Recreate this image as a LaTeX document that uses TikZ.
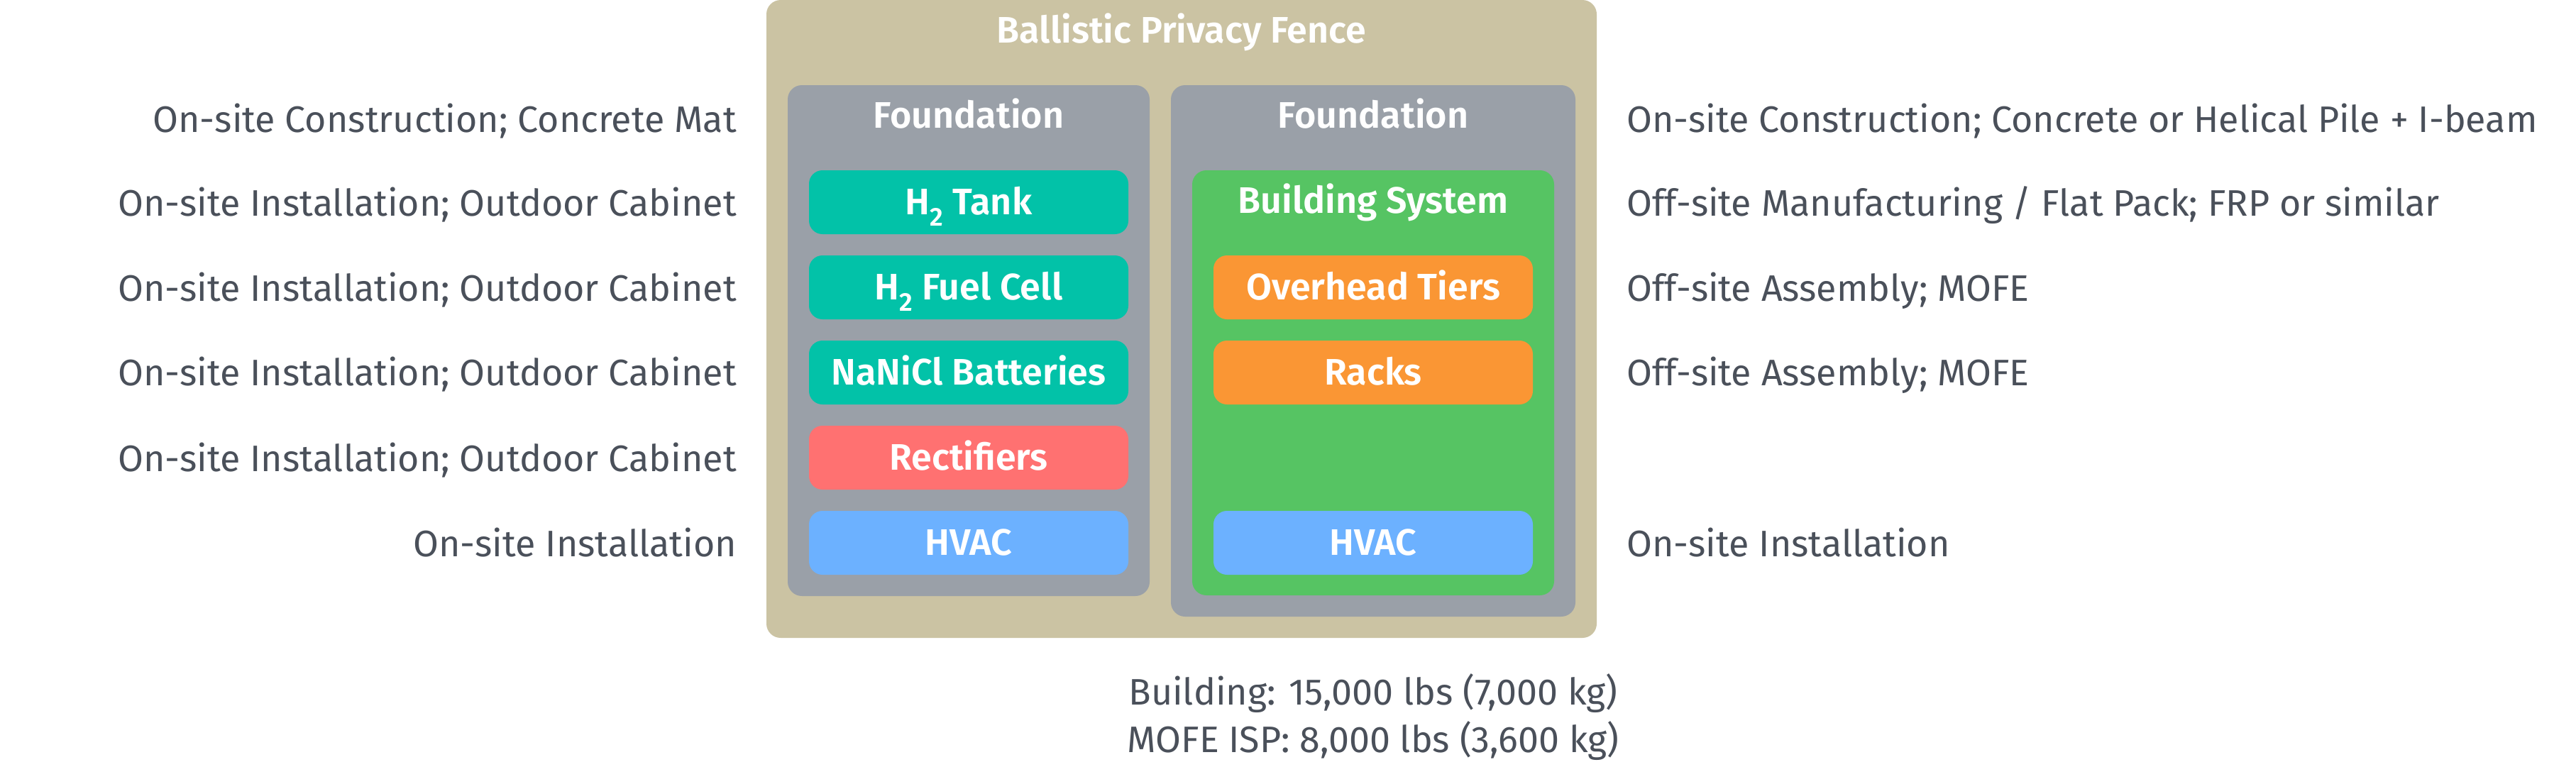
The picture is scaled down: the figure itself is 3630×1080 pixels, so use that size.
\documentclass[tikz,border=0pt]{standalone}
\usepackage{fontspec}
\setmainfont{Fira Sans}
\newfontfamily\semib{Fira Sans SemiBold}
\definecolor{fence}{RGB}{203,195,163}
\definecolor{found}{RGB}{154,160,168}
\definecolor{teal}{RGB}{2,194,168}
\definecolor{bgreen}{RGB}{86,196,99}
\definecolor{orng}{RGB}{250,150,52}
\definecolor{salmon}{RGB}{255,113,113}
\definecolor{skyb}{RGB}{108,177,255}
\definecolor{ink}{RGB}{74,80,90}
\newcommand\lblfnt{\fontsize{52}{67}\selectfont}
\newcommand\boldfnt{\fontsize{52}{60}\selectfont\semib}
\begin{document}
\begin{tikzpicture}[x=1pt,y=-1pt,
  panel/.style={rounded corners=20pt, inner sep=0pt, outer sep=0pt, anchor=north west},
  item/.style={rounded corners=19pt, inner sep=0pt, outer sep=0pt, text=white, font=\boldfnt,
    minimum width=450pt, minimum height=90pt, text height=35pt, text depth=0pt},
  ttl/.style={text=white, font=\boldfnt, anchor=base, inner sep=0pt},
  lbl/.style={text=ink, font=\lblfnt, inner sep=0pt}]
\useasboundingbox (0,0) rectangle (3630,1080);
% containers
\node[panel, fill=fence, minimum width=1170pt, minimum height=899pt] (fence) at (1080,0) {};
\node[panel, fill=found, minimum width=510pt, minimum height=720pt] (fl) at (1110,120) {};
\node[panel, fill=found, minimum width=570pt, minimum height=749pt] (fr) at (1650,120) {};
\node[panel, fill=bgreen, minimum width=510pt, minimum height=599pt] (bs) at (1680,240) {};
% titles
\node[ttl] (tfence) at (1665,60) {Ballistic Privacy Fence};
\node[ttl] (tfl) at (1365,180) {Foundation};
\node[ttl] (tfr) at (1935,180) {Foundation};
\node[ttl] (tbs) at (1935,300) {Building System};
% left items
\node[item, fill=teal] (tank) at (1365,285) {H\textsubscript{2} Tank};
\node[item, fill=teal] (cell) at (1365,405) {H\textsubscript{2} Fuel Cell};
\node[item, fill=teal] (batt) at (1365,525) {NaNiCl Batteries};
\node[item, fill=salmon] (rect) at (1365,645) {Rectifiers};
\node[item, fill=skyb] (hvacl) at (1365,765) {HVAC};
% right items
\node[item, fill=orng] (tiers) at (1935,405) {Overhead Tiers};
\node[item, fill=orng] (racks) at (1935,525) {Racks};
\node[item, fill=skyb] (hvacr) at (1935,765) {HVAC};
% left labels
\node[lbl, anchor=base east] (l1) at (1038,186) {On-site Construction; Concrete Mat};
\node[lbl, anchor=base east] (l2) at (1038,304) {On-site Installation; Outdoor Cabinet};
\node[lbl, anchor=base east] (l3) at (1038,424) {On-site Installation; Outdoor Cabinet};
\node[lbl, anchor=base east] (l4) at (1038,543) {On-site Installation; Outdoor Cabinet};
\node[lbl, anchor=base east] (l5) at (1038,664) {On-site Installation; Outdoor Cabinet};
\node[lbl, anchor=base east] (l6) at (1038,784) {On-site Installation};
% right labels
\node[lbl, anchor=base west] (r1) at (2292,186) {On-site Construction; Concrete or Helical Pile + I-beam};
\node[lbl, anchor=base west] (r2) at (2292,304) {Off-site Manufacturing / Flat Pack; FRP or similar};
\node[lbl, anchor=base west] (r3) at (2292,424) {Off-site Assembly; MOFE};
\node[lbl, anchor=base west] (r4) at (2292,543) {Off-site Assembly; MOFE};
\node[lbl, anchor=base west] (r6) at (2292,784) {On-site Installation};
% bottom text
\node[lbl, anchor=base, align=center] (wt) at (1935,1060) {Building: 15,000 lbs (7,000 kg)\\MOFE ISP: 8,000 lbs (3,600 kg)};
\end{tikzpicture}
\end{document}
